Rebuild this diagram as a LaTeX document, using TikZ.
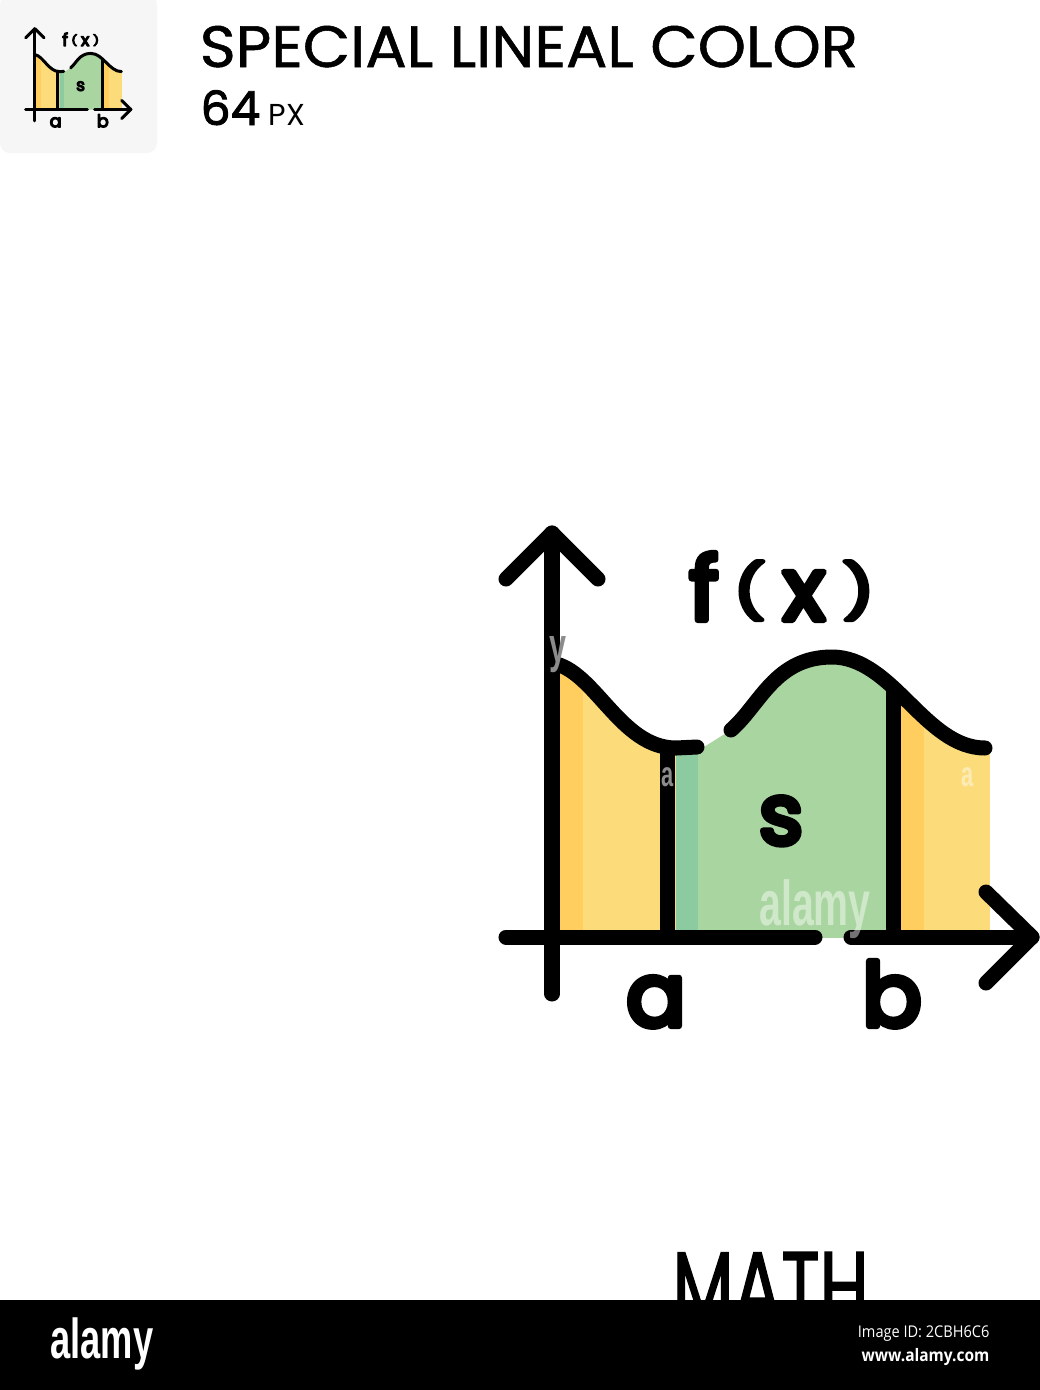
\documentclass[tikz,border=0pt]{standalone}
\usepackage{fontspec}
\usepackage{graphicx}
\usepackage{xcolor}
\setmainfont{Poppins}
\newfontfamily\labelfont[FakeBold=7]{Poppins}
\newfontfamily\headfont[FakeBold=0.9]{Poppins}
\newfontfamily\sizefont[FakeBold=2]{Poppins}
\newfontfamily\logofont{Liberation Sans}
\newfontfamily\barfont{Open Sans}
\definecolor{paleyellow}{HTML}{FCDC7A}
\definecolor{deepyellow}{HTML}{FFCE5E}
\definecolor{palegreen}{HTML}{A9D6A0}
\definecolor{deepgreen}{HTML}{8CCBA0}
\definecolor{thumbgray}{HTML}{F6F6F6}
\tikzset{
  inkline/.style={line width=#1,line cap=round,line join=round},
  inkline/.default=0.15cm,
  letter/.style={inner sep=0,text=black,transform shape}
}
% the curve, the axes and the letters, in pixels of the full-size icon
\newcommand{\roundjoin}{\special{pdf:code 1 J 1 j}}
\newcommand{\lowparen}[1]{\smash{\raisebox{0.11em}{\scalebox{0.8}[0.6]{#1}}}}
\newcommand{\areaicon}[1]{
      \begin{scope}
      \clip (731,730) .. controls (760,705) and (775,657) .. (832,657) .. controls (893,657) and (925,748) .. (985,748) -- (990,752) -- (990,938) -- (667,938) -- (667,748) -- (704,747) -- cycle;
      \fill [palegreen] (667,640) rectangle (893,938);
      \fill [deepgreen] (667,640) rectangle (698,930);
      \fill [paleyellow] (893,640) rectangle (990,930);
      \fill [deepyellow] (893,640) rectangle (924,930);
      \end{scope}
      \begin{scope}
      \clip (552,663) .. controls (595,670) and (620,748) .. (676,748) -- (676,930) -- (552,930) -- cycle;
      \fill [paleyellow] (552,650) rectangle (676,930);
      \fill [deepyellow] (552,650) rectangle (583,930);
      \end{scope}
      \draw [inkline=#1] (552,994) -- (552,533);
      \draw [inkline=#1] (506,579) -- (552,533) -- (598,579);
      \draw [inkline=#1] (506,937) -- (815,937);
      \draw [inkline=#1] (851,937) -- (1032,937);
      \draw [inkline=#1] (986,892) -- (1032,937) -- (986,983);
      \draw [inkline=#1] (667,748) -- (667,937);
      \draw [inkline=#1] (893,690) -- (893,937);
      \draw [inkline=#1] (552,663) .. controls (595,670) and (620,748) .. (676,748) -- (697,747);
      \draw [inkline=#1] (731,730) .. controls (760,705) and (775,657) .. (832,657) .. controls (893,657) and (925,748) .. (985,748);
      \node (flabel) [letter,anchor=base,font=\labelfont\fontsize{25}{26}\selectfont] at (782,620) {\roundjoin f\hspace{0.17em}\lowparen{(}\hspace{0.2em}x\hspace{0.2em}\lowparen{)}};
      \node (slabel) [letter,anchor=base,font=\labelfont\fontsize{24}{24}\selectfont] at (781,844) {\roundjoin s};
      \node (alabel) [letter,anchor=base,font=\labelfont\fontsize{25}{26}\selectfont] at (656,1026) {\roundjoin a};
      \node (blabel) [letter,anchor=base,font=\labelfont\fontsize{25}{26}\selectfont] at (892,1026) {\roundjoin b};
}
\begin{document}
\begin{tikzpicture}[x=0.01cm,y=-0.01cm]
      \useasboundingbox (0,0) rectangle (1040,1390);
      \fill [white] (0,0) rectangle (1040,1390);
      % thumbnail
      \fill [thumbgray,rounded corners=0.1cm] (0,-5) rectangle (157,153);
      \begin{scope}[shift={(-75.6,-78)},scale=0.2,name prefix=thumb-]
      \areaicon{0.03cm}
      \end{scope}
      % heading
      \node (title) [anchor=base west,inner sep=0,xscale=1.052,font=\headfont\fontsize{16.6}{18}\selectfont] at (199,67) {SPECIAL LINEAL COLOR};
      \node (size) [anchor=base west,inner sep=0,font=\sizefont\fontsize{13.4}{18}\selectfont] at (200,125) {64};
      \node (unit) [anchor=base west,inner sep=0,font=\fontsize{8.6}{10}\selectfont] at (268,125) {PX};
      % main icon
      \areaicon{0.15cm}
      \node (markone) [font=\logofont\bfseries\fontsize{18}{18}\selectfont,text=white,opacity=0.45,inner sep=0,xscale=0.62,anchor=base] at (815,925) {alamy};
      \node (marktwo) [font=\logofont\bfseries\fontsize{10}{10}\selectfont,text=white,opacity=0.45,inner sep=0,xscale=0.62] at (968,777) {a};
      \node (markthree) [font=\logofont\bfseries\fontsize{10}{10}\selectfont,text=gray!90,inner sep=0,xscale=0.62] at (668,777) {a};
      \node (markfour) [font=\logofont\bfseries\fontsize{14}{14}\selectfont,text=gray!90,inner sep=0,xscale=0.62,anchor=base] at (558,662) {y};
      % caption, cut off by the bar
      \node (caption) [anchor=base west,inner sep=0,xscale=0.72,font=\sizefont\fontsize{28}{30}\selectfont] at (672,1321) {MATH};
      \fill [black] (0,1300) rectangle (1040,1390);
      \node (logo) [anchor=base west,inner sep=0,xscale=0.645,text=white,font=\logofont\bfseries\fontsize{16}{18}\selectfont] at (50,1358) {alamy};
      \node (imageid) [anchor=base east,inner sep=0,xscale=0.9,text=white,font=\barfont\fontsize{4.6}{6}\selectfont] at (990,1337) {Image ID: 2CBH6C6};
      \node (website) [anchor=base east,inner sep=0,xscale=0.9,text=white,font=\barfont\bfseries\fontsize{4.9}{6}\selectfont] at (990,1361) {www.alamy.com};
\end{tikzpicture}
\end{document}
